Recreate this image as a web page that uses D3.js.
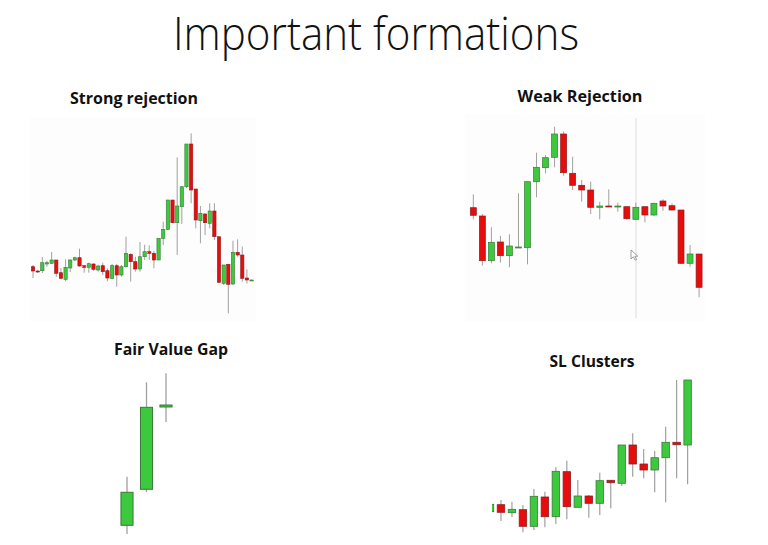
<!DOCTYPE html>
<html>
<head>
<meta charset="utf-8">
<script src="https://cdn.jsdelivr.net/npm/d3@7"></script>
<style>
  body { margin: 0; background: #fff; }
  svg { display: block; }
</style>
</head>
<body>
<script>
// candles as [open, high, low, close], price units
var strongRejection = [
  [53.3, 55, 42, 49], [49, 50, 47, 48], [49.3, 63, 47, 57.3], [56, 59.3, 53.3, 57.3],
  [56.7, 68, 56, 60], [60, 60, 43.3, 46.7], [47.3, 52, 40.7, 41.7], [40.7, 60.7, 38.7, 52.7],
  [52, 60.7, 48, 60], [60, 63.3, 58.7, 62.3], [62.3, 71.3, 53.3, 54], [54.3, 54.3, 47.3, 52.7],
  [52.7, 57.3, 47.3, 56.3], [56, 56.7, 49.3, 50.7], [50, 55.3, 48.3, 54], [54.3, 57.3, 45, 48.3],
  [49.3, 51.7, 38.7, 42], [41.7, 56, 40.7, 54.3], [54.3, 56, 33.3, 45], [45, 55, 43.3, 53.3],
  [53.3, 83.3, 52.7, 66.7], [65.7, 66.7, 38.3, 58.3], [58.3, 63.3, 48.3, 51], [51, 78, 48.3, 63.3],
  [63.3, 75.3, 60, 68.3], [68.3, 74.7, 60, 66.7], [66.7, 69, 51.7, 60], [60, 81.7, 60, 81.7],
  [81.7, 98.3, 75, 90.7], [90.7, 120, 90, 120], [120, 120, 97, 97.3], [97.3, 162.7, 65, 114],
  [113.3, 133.3, 96, 133.3], [133.3, 176, 132, 176], [176, 186.7, 116.7, 130], [131, 131, 91.7, 100],
  [99.3, 114, 76.7, 106.7], [106, 106.7, 85, 97.3], [96.7, 116.7, 91.7, 109], [109, 116.7, 80, 83.3],
  [83.3, 83.3, 37, 37.7], [36.7, 55, 35, 55], [55.7, 55.7, 6.7, 35.7], [36, 79.3, 35, 67.7],
  [67.7, 80.7, 63.3, 65], [65, 73.3, 38.3, 41.7], [42, 50.7, 36.7, 40], [40, 40.5, 39.5, 40]
];

var weakRejection = [
  [112.3, 125.7, 100.7, 104.7], [104, 106, 54.3, 59.3], [59.3, 92.7, 56.7, 77.7], [78, 84, 57.3, 64.3],
  [64.3, 85.7, 52.7, 74], [72.7, 126.7, 72.5, 73], [72.3, 138.3, 55.7, 138.3], [138.3, 167.3, 122.7, 152.7],
  [152.3, 165, 146.7, 162.3], [162.7, 193.3, 152.7, 186], [186, 188.7, 144.3, 147.3], [146.7, 163.3, 130, 134.7],
  [134.7, 140, 118.3, 130], [130, 138.3, 106, 112.7], [112.7, 118.3, 100.7, 114], [114, 130.7, 113.3, 113.3],
  [113, 117.3, 108.3, 114], [113.3, 113.3, 100, 101.3], [100.7, 117.3, 100, 112.7], [113.3, 113.3, 97.7, 105],
  [105, 117.3, 104, 116.7], [119, 120.7, 109.3, 114], [114.3, 116.7, 109.3, 110], [110, 110, 56, 56.7],
  [56.7, 75, 53.3, 66], [66, 66, 22.7, 32.7]
];

var fairValueGap = [
  [14.7, 63.3, 6, 47.7], [50.7, 157.7, 48, 132.7], [133, 166.7, 118, 135]
];

var slClusters = [
  [28.3, 35.7, 28.3, 35.7], [35.3, 40, 19, 27.7], [27.3, 38.3, 23, 30.7], [30.3, 35, 7.7, 13.7],
  [13.7, 51, 10, 43.7], [43, 48.3, 12.7, 23.3], [23.3, 72.7, 16, 68.7], [68.3, 79.3, 20.7, 33.3],
  [32.7, 60, 32.7, 44], [44, 45, 22.3, 36.7], [36.7, 67.3, 25, 59.3], [59.7, 59.7, 31.7, 57.3],
  [56.7, 95, 54, 95], [95, 106.7, 63.3, 76], [76, 91, 61.7, 70], [70, 89, 47.7, 82.3],
  [82.3, 113.3, 37.7, 97.7], [97.7, 160, 61.7, 95.3], [95, 160, 55.7, 160]
];

var titles = ["Strong rejection", "Weak Rejection", "Fair Value Gap", "SL Clusters"];

var W = 768, H = 545;
var up = "#3dc93d", down = "#e80c0c";

var svg = d3.select("body").append("svg")
  .attr("width", W).attr("height", H);

svg.append("text")
  .attr("x", 376).attr("y", 50)
  .attr("text-anchor", "middle")
  .attr("font-family", "'Open Sans', 'Noto Sans', sans-serif")
  .attr("font-weight", 300)
  .attr("font-size", 46)
  .attr("textLength", 406).attr("lengthAdjust", "spacingAndGlyphs")
  .attr("fill", "#111")
  .text("Important formations");

var labels = [
  { x: 134, y: 104, w: 128 },
  { x: 580, y: 102, w: 125 },
  { x: 171, y: 355, w: 114 },
  { x: 592, y: 367, w: 85 }
];
svg.selectAll("text.sub")
  .data(titles)
  .enter().append("text")
  .attr("class", "sub")
  .attr("x", function(d, i) { return labels[i].x; })
  .attr("y", function(d, i) { return labels[i].y; })
  .attr("text-anchor", "middle")
  .attr("font-family", "'Open Sans', 'Noto Sans', sans-serif")
  .attr("font-weight", 700)
  .attr("font-size", 16)
  .attr("textLength", function(d, i) { return labels[i].w; })
  .attr("lengthAdjust", "spacingAndGlyphs")
  .attr("fill", "#111")
  .text(function(d) { return d; });

// chart backgrounds (the pasted pictures are a touch off-white)
svg.append("rect").attr("x", 30).attr("y", 117).attr("width", 226).attr("height", 204).attr("fill", "#fdfdfd");
svg.append("rect").attr("x", 465).attr("y", 115).attr("width", 240).attr("height", 206).attr("fill", "#fdfdfd");

// crosshair line in the weak rejection picture
svg.append("line")
  .attr("x1", 636).attr("x2", 636).attr("y1", 118).attr("y2", 318)
  .attr("stroke", "#e2e2e2").attr("stroke-width", 1.2);

var panels = [
  { data: strongRejection, x: [30.7, 253.9], y: [320, 120], pad: 0.29, sw: 0.6, ww: 1 },
  { data: weakRejection, x: [468.8, 703.6], y: [320, 120], pad: 0.34, sw: 0.7, ww: 1 },
  { data: fairValueGap, x: [117.25, 175.75], y: [540, 340], pad: 0.38, sw: 1, ww: 1.3 },
  { data: slClusters, x: [484.5, 693.1], y: [540, 340], pad: 0.32, sw: 0.8, ww: 1.2, clip: 492 }
];

svg.append("clipPath").attr("id", "clip4")
  .append("rect").attr("x", 492).attr("y", 330).attr("width", 220).attr("height", 215);

panels.forEach(function(p, k) {
  var x = d3.scaleBand().domain(d3.range(p.data.length)).range(p.x).paddingInner(p.pad).paddingOuter(p.pad / 2);
  var y = d3.scaleLinear().domain([0, 200]).range(p.y);
  var g = svg.append("g").attr("class", "panel");
  if (p.clip) g.attr("clip-path", "url(#clip4)");

  var c = g.selectAll("g.candle")
    .data(p.data)
    .enter().append("g").attr("class", "candle");

  c.append("line")
    .attr("x1", function(d, i) { return x(i) + x.bandwidth() / 2; })
    .attr("x2", function(d, i) { return x(i) + x.bandwidth() / 2; })
    .attr("y1", function(d) { return y(d[1]); })
    .attr("y2", function(d) { return y(d[2]); })
    .attr("stroke", "#a0a0a0")
    .attr("stroke-width", p.ww);

  c.append("rect")
    .attr("x", function(d, i) { return x(i); })
    .attr("width", x.bandwidth())
    .attr("y", function(d) { return y(Math.max(d[0], d[3])); })
    .attr("height", function(d) { return Math.max(1, Math.abs(y(d[0]) - y(d[3]))); })
    .attr("fill", function(d) { return d[3] >= d[0] ? up : down; })
    .attr("stroke", function(d) { return d[3] >= d[0] ? "#3a7a3a" : "#8a2020"; })
    .attr("stroke-width", p.sw);
});

// mouse pointer left in the screenshot
svg.append("path")
  .attr("transform", "translate(631,250)")
  .attr("d", "M0,0 L0,9 L2.3,6.8 L4.2,10.2 L5.6,9.5 L3.8,6.2 L6.8,6.2 Z")
  .attr("fill", "#fff").attr("stroke", "#888").attr("stroke-width", 0.8);
</script>
</body>
</html>
